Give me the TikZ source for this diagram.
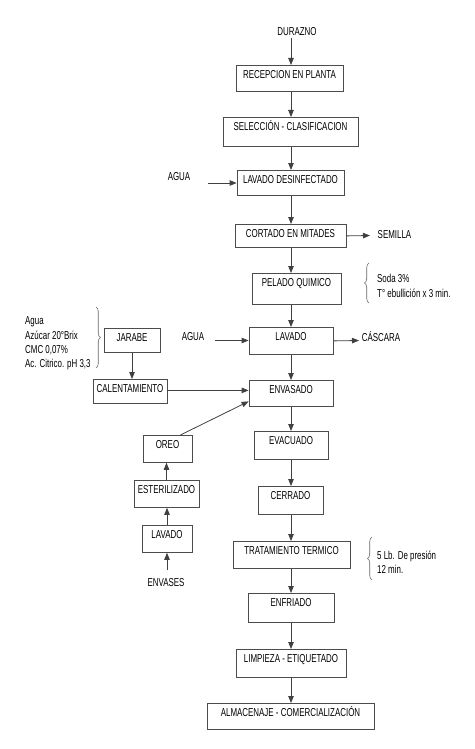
\documentclass[tikz,border=0pt]{standalone}
\usepackage{fontspec}
\setmainfont{Liberation Sans}[FakeStretch=0.69]
\usetikzlibrary{arrows.meta,decorations.pathreplacing}
\begin{document}
\begin{tikzpicture}[x=1pt,y=-1pt,
  font=\fontsize{11.5}{14.3}\selectfont,
  box/.style={draw=black!70, line width=0.8pt, inner sep=0pt, text height=12.8pt, anchor=north},
  arr/.style={draw=black!75, line width=0.8pt, -{Triangle[length=7pt,width=5.5pt]}},
  lbl/.style={inner sep=0pt},
  brc/.style={draw=black!60, line width=0.6pt, decorate, decoration={brace,amplitude=4.5pt}}]
\useasboundingbox (0,0) rectangle (474,749);
\coordinate (spine) at (291,0);
% main column
\node[lbl] (dur) at (297,32) {DURAZNO};
\node[box, minimum width=107pt, text depth=13.2pt] (rec) at (289.5,65) {RECEPCION EN PLANTA};
\node[box, minimum width=135pt, text depth=16.2pt] (sel) at (290.5,117) {SELECCIÓN - CLASIFICACION};
\node[box, minimum width=107pt, text depth=12.2pt] (ldes) at (290.5,170) {LAVADO DESINFECTADO};
\node[box, minimum width=111pt, text depth=10.2pt] (cort) at (290.5,224) {CORTADO EN MITADES};
\node[box, minimum width=89pt, text depth=18.2pt] (pel) at (296.5,273) {PELADO QUIMICO};
\node[box, minimum width=84pt, text depth=14.2pt] (lav) at (291,327) {LAVADO};
\node[box, minimum width=84pt, text depth=13.2pt] (env) at (291,380) {ENVASADO};
\node[box, minimum width=74pt, text depth=15.2pt] (evac) at (291,431) {EVACUADO};
\node[box, minimum width=65pt, text depth=15.2pt] (cerr) at (290.5,486) {CERRADO};
\node[box, minimum width=117pt, text depth=14.2pt] (trat) at (291.5,541) {TRATAMIENTO TERMICO};
\node[box, minimum width=86pt, text depth=16.2pt] (enfr) at (291,593) {ENFRIADO};
\node[box, minimum width=110pt, text depth=15.2pt] (limp) at (291,649) {LIMPIEZA - ETIQUETADO};
\node[box, minimum width=167pt, text depth=13.2pt] (alm) at (290.5,703) {ALMACENAJE - COMERCIALIZACIÓN};
% left column
\node[box, minimum width=56pt, text depth=11.2pt] (jar) at (132,328) {JARABE};
\node[box, minimum width=74pt, text depth=11.2pt] (cal) at (130,379) {CALENTAMIENTO};
\node[box, minimum width=49pt, text depth=14.2pt] (oreo) at (167.5,435) {OREO};
\node[box, minimum width=65pt, text depth=14.2pt] (est) at (166.5,480) {ESTERILIZADO};
\node[box, minimum width=50pt, text depth=14.2pt] (lav2) at (167,525) {LAVADO};
\node[lbl] (envs) at (166,583) {ENVASES};
% side labels
\node[lbl] (agua1) at (179,177) {AGUA};
\coordinate (agua1s) at (208,183);
\node[lbl] (sem) at (394.5,235) {SEMILLA};
\coordinate (seme) at (370,235.5);
\node[lbl] (agua2) at (193,337) {AGUA};
\coordinate (agua2s) at (215,340.5);
\node[lbl] (casc) at (381,337) {CÁSCARA};
\coordinate (casce) at (359,340.5);
\node[lbl, anchor=west, align=left] (ingr) at (25,343.5) {Agua\\Azúcar 20°Brix\\CMC 0,07\%\\Ac. Citrico. pH 3,3};
\node[lbl, anchor=west, align=left] (soda) at (377,286) {Soda 3\%\\T° ebullición x 3 min.};
\node[lbl, anchor=west, align=left] (pres) at (377,562.5) {5 Lb. De presión\\12 min.};
\coordinate (envss) at (167,570);
% braces
\draw[brc] (96,307) -- (96,368);
\draw[brc] (369,303) -- (369,263);
\draw[brc] (372,580) -- (372,537);
% main arrows
\draw[arr] (dur.south -| spine) ++(0,2) -- (rec.north -| spine);
\draw[arr] (rec.south -| spine) -- (sel.north -| spine);
\draw[arr] (sel.south -| spine) -- (ldes.north -| spine);
\draw[arr] (ldes.south -| spine) -- (cort.north -| spine);
\draw[arr] (cort.south -| spine) -- (pel.north -| spine);
\draw[arr] (pel.south -| spine) -- (lav.north -| spine);
\draw[arr] (lav.south -| spine) -- (env.north -| spine);
\draw[arr] (env.south -| spine) -- (evac.north -| spine);
\draw[arr] (evac.south -| spine) -- (cerr.north -| spine);
\draw[arr] (cerr.south -| spine) -- (trat.north -| spine);
\draw[arr] (trat.south -| spine) -- (enfr.north -| spine);
\draw[arr] (enfr.south -| spine) -- (limp.north -| spine);
\draw[arr] (limp.south -| spine) -- (alm.north -| spine);
% side arrows
\draw[arr] (agua1s) -- (agua1s -| ldes.west);
\draw[arr] (cort.east) -- (seme);
\draw[arr] (agua2s) -- (agua2s -| lav.west);
\draw[arr] (lav.east) -- (casce);
\draw[arr] (jar.south) -- (jar.south |- cal.north);
\draw[arr] ([yshift=1pt]cal.east) -- ([yshift=1pt]cal.east -| env.west);
\draw[arr] ([xshift=-12pt]oreo.north east) -- ([yshift=-8pt]env.west);
\draw[arr] (envss) -- (envss |- lav2.south);
\draw[arr] (lav2.north) -- (lav2.north |- est.south);
\draw[arr] (est.north) -- (est.north |- oreo.south);
\end{tikzpicture}
\end{document}
